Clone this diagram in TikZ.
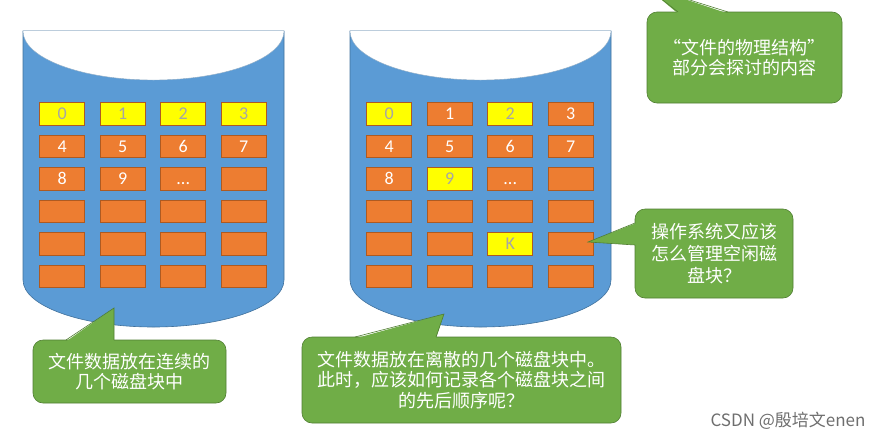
\documentclass[tikz,border=0pt]{standalone}
\usepackage{fontspec}
\newfontfamily\cjk{Noto Sans CJK SC}
\newfontfamily\numfont{Carlito}
\usepackage{tikz}
\usetikzlibrary{matrix}
\definecolor{drum}{RGB}{91,155,213}
\definecolor{drumedge}{RGB}{65,113,156}
\definecolor{block}{RGB}{237,125,49}
\definecolor{blockedge}{RGB}{174,90,33}
\definecolor{used}{RGB}{255,255,0}
\definecolor{usedtext}{RGB}{166,166,166}
\definecolor{note}{RGB}{112,173,71}
\definecolor{noteedge}{RGB}{80,126,50}
\definecolor{wmgrey}{RGB}{110,110,110}

\begin{document}
\begin{tikzpicture}[x=1pt, y=-1pt,
  blk/.style={draw=blockedge, fill=block, line width=0.8pt, minimum width=45pt, minimum height=22.5pt, inner sep=0pt, text height=12pt, text depth=0pt, text=white, font=\numfont\fontsize{18}{18}\selectfont},
  hot/.style={fill=used, text=usedtext},
  drumbody/.style={fill=drum, draw=drumedge, line width=0.6pt},
  bubble/.style={draw=noteedge, fill=note, line width=0.6pt, rounded corners=10pt, text=white, align=center, inner sep=0pt, font=\cjk\fontsize{18}{20.5}\selectfont},
  tail/.style={fill=note},
  tailedge/.style={draw=noteedge, line width=0.6pt},
]
  \useasboundingbox (0,0) rectangle (883,437);

  % two disks
  \foreach \dx/\name in {0/d1, 327/d2} {
    \draw[drumbody] (23+\dx,31) -- (23+\dx,280) arc[start angle=180, end angle=360, x radius=130.5pt, y radius=47pt] -- (284+\dx,31) -- cycle;
    \fill[white] (23+\dx,31) arc[start angle=180, end angle=360, x radius=130.5pt, y radius=49pt] -- cycle;
    \draw[drumedge!60, line width=0.4pt] (23+\dx,31) arc[start angle=180, end angle=360, x radius=130.5pt, y radius=49pt];
  }

  % contiguous allocation
  \matrix (m1) [matrix of nodes, nodes in empty cells, nodes={blk}, row sep=9.2pt, column sep=14.7pt] at (153,195) {
    |[hot]| 0 & |[hot]| 1 & |[hot]| 2 & |[hot]| 3 \\
    4 & 5 & 6 & 7 \\
    8 & 9 & ... & \\
      &   &     & \\
      &   &     & \\
      &   &     & \\
  };

  % scattered blocks
  \matrix (m2) [matrix of nodes, nodes in empty cells, nodes={blk}, row sep=9.2pt, column sep=14.7pt] at (480,195) {
    |[hot]| 0 & 1 & |[hot]| 2 & 3 \\
    4 & 5 & 6 & 7 \\
    8 & |[hot]| 9 & ... & \\
      &   &     & \\
      &   & |[hot]| K & \\
      &   &     & \\
  };

  % callouts
  \node[bubble, minimum width=193pt, minimum height=63pt] (n1) at (129.5,371.5) {文件数据放在连续的\\几个磁盘块中};
  \coordinate (t1) at (114,308);
  \fill[tail] (66,341.5) -- (t1) -- (114,341.5) -- cycle;
  \draw[tailedge] (66,340) -- (t1) -- (114,340);

  \node[bubble, minimum width=319pt, minimum height=86pt] (n2) at (461.5,380) {文件数据放在离散的几个磁盘块中。\\此时，应该如何记录各个磁盘块之间\\的先后顺序呢？};
  \coordinate (t2) at (444,314);
  \fill[tail] (355,338.5) -- (t2) -- (436,338.5) -- cycle;
  \draw[tailedge] (355,337) -- (t2) -- (436,337);

  \node[bubble, minimum width=195pt, minimum height=91pt] (n3) at (744.5,57.5) {“文件的物理结构”\\部分会探讨的内容};
  \coordinate (t3) at (645,-14);
  \fill[tail] (678,13.5) -- (t3) -- (728,13.5) -- cycle;
  \draw[tailedge] (678,12) -- (t3) -- (728,12);

  \node[bubble, minimum width=158pt, minimum height=89pt, font=\cjk\fontsize{18}{22}\selectfont] (n4) at (714,253.5) {操作系统又应该\\怎么管理空闲磁\\盘块？};
  \coordinate (t4) at (588,242);
  \fill[tail] (636.5,223) -- (t4) -- (636.5,245) -- cycle;
  \draw[tailedge] (635,223) -- (t4) -- (635,245);

  \node[font=\cjk\fontsize{17}{17}\selectfont, text=wmgrey] (wm) at (788,421) {CSDN @殷培文enen};
\end{tikzpicture}
\end{document}
